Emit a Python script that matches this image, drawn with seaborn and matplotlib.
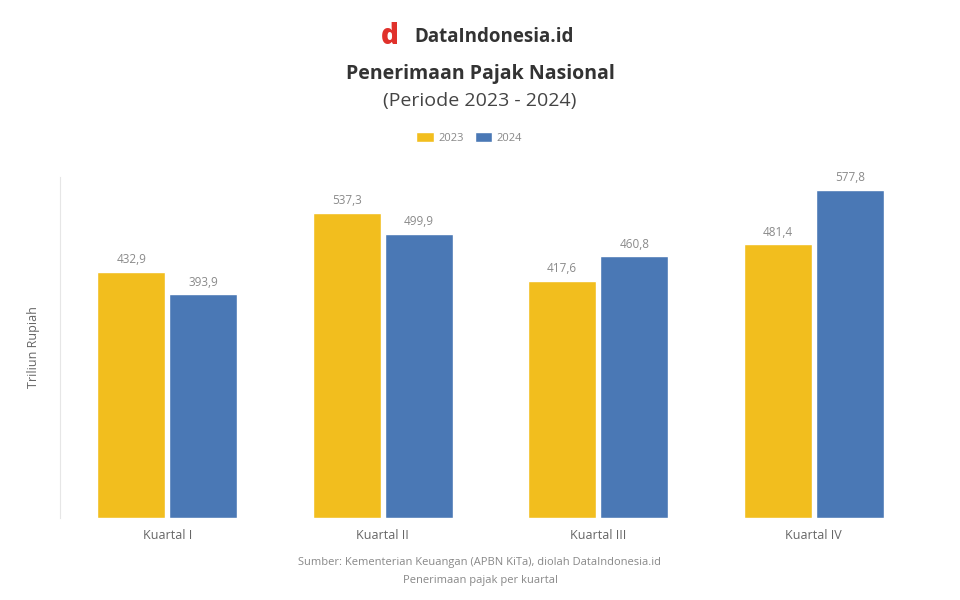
import pandas as pd
import matplotlib.pyplot as plt
import seaborn as sns

# ------------------------------------------------------------------
# Data (triliun rupiah, per kuartal)
# ------------------------------------------------------------------
kuartal = ["Kuartal I", "Kuartal II", "Kuartal III", "Kuartal IV"]
tahun = ["2023", "2024"]
pajak_2023 = [432.9, 537.3, 417.6, 481.4]
pajak_2024 = [393.9, 499.9, 460.8, 577.8]

df = pd.DataFrame({
    "Kuartal": kuartal * 2,
    "Tahun": [tahun[0]] * 4 + [tahun[1]] * 4,
    "Nilai": pajak_2023 + pajak_2024,
})

# ------------------------------------------------------------------
# Setup
# ------------------------------------------------------------------
sns.set_style("white")
plt.rcParams["font.family"] = ["Open Sans", "DejaVu Sans"]

YELLOW = "#F2BE1E"
BLUE = "#4A78B5"
GREY = "#8a8a8a"

fig = plt.figure(figsize=(9.6, 6), dpi=100)
ax = fig.add_axes([0.062, 0.137, 0.898, 0.568])

sns.barplot(data=df, x="Kuartal", y="Nilai", hue="Tahun",
            palette=[YELLOW, BLUE], width=0.67, gap=0.06,
            saturation=1, ax=ax, legend=True)

for cont in ax.containers:
    ax.bar_label(cont, labels=[f"{v:,.1f}".replace(".", ",") for v in cont.datavalues],
                 padding=4, fontsize=8.5, color=GREY)

ax.set_ylim(0, 600)
ax.set_xlabel("")
ax.set_ylabel("Triliun Rupiah", fontsize=9, color="#666666", labelpad=14)
ax.set_yticks([])
ax.tick_params(axis="x", length=0, labelsize=9, labelcolor="#666666", pad=8)
for side in ["top", "right", "bottom"]:
    ax.spines[side].set_visible(False)
ax.spines["left"].set_color("#e6e6e6")

leg = ax.legend(loc="center", bbox_to_anchor=(0.475, 1.115), ncol=2,
                frameon=False, fontsize=8, handlelength=1.6, handleheight=1.0,
                columnspacing=1.0, handletextpad=0.4)
for t in leg.get_texts():
    t.set_color("#888888")

# ------------------------------------------------------------------
# Header
# ------------------------------------------------------------------
fig.text(0.406, 0.940, "d", fontsize=20, fontweight="heavy", color="#e0312b",
         ha="center", va="center")
fig.text(0.432, 0.939, "DataIndonesia.id", fontsize=13.5, fontweight="bold",
         color="#333333", ha="left", va="center")
fig.text(0.5, 0.877, "Penerimaan Pajak Nasional", fontsize=14, fontweight="bold",
         color="#333333", ha="center", va="center")
fig.text(0.5, 0.832, "(Periode 2023 - 2024)", fontsize=14,
         color="#444444", ha="center", va="center")

# Source
fig.text(0.5, 0.063, "Sumber: Kementerian Keuangan (APBN KiTa), diolah DataIndonesia.id",
         fontsize=8, color="#888888", ha="center", va="center")
fig.text(0.5, 0.033, "Penerimaan pajak per kuartal",
         fontsize=8, color="#888888", ha="center", va="center")

fig.savefig("out.png", dpi=100)
